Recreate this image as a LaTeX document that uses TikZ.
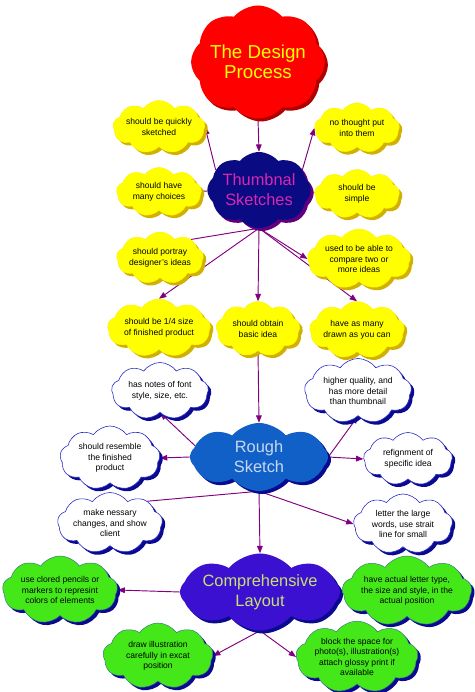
\documentclass[tikz,border=0pt]{standalone}
\usepackage{xcolor}
\usepackage{fontspec}
\setmainfont{Liberation Sans}
\usepackage{tikz}
\usetikzlibrary{shapes.symbols, arrows.meta, shadows, backgrounds}

\definecolor{lila}{HTML}{800080}
\definecolor{rojo}{HTML}{FF0000}
\definecolor{rojoosc}{HTML}{B00000}
\definecolor{marino}{HTML}{0A0A82}
\definecolor{morado}{HTML}{600080}
\definecolor{azul}{HTML}{1060C8}
\definecolor{violeta}{HTML}{3C10D0}
\definecolor{sombra}{HTML}{0A0A90}
\definecolor{amarillo}{HTML}{FFFF00}
\definecolor{oro}{HTML}{D0B000}
\definecolor{verde}{HTML}{44E818}
\definecolor{borde}{HTML}{2828C8}
\definecolor{rosa}{HTML}{D828B0}
\definecolor{celeste}{HTML}{C8D8EC}
\definecolor{lima}{HTML}{C8E070}

\begin{document}
\begin{tikzpicture}[
  nube/.style={
    cloud, cloud puffs=9, cloud puff arc=110, cloud ignores aspect,
    inner sep=0pt, align=center, font=\fontsize{7.3}{9}\selectfont
  },
  grande/.style={
    cloud, cloud puffs=8, cloud puff arc=100, cloud ignores aspect,
    inner sep=0pt, align=center, font=\fontsize{14}{17}\selectfont
  },
  amarilla/.style={
    nube, fill=amarillo, draw=amarillo!90!orange, line width=0.4pt,
    drop shadow={shadow xshift=0.9mm, shadow yshift=-0.9mm, fill=oro, opacity=1}
  },
  blanca/.style={
    nube, fill=white, draw=borde, line width=0.5pt,
    drop shadow={shadow xshift=0.9mm, shadow yshift=-0.9mm, fill=sombra, opacity=1}
  },
  verdes/.style={
    nube, fill=verde, draw=borde!60!verde, line width=0.4pt,
    drop shadow={shadow xshift=0.9mm, shadow yshift=-0.9mm, fill=sombra, opacity=1}
  },
  arr/.style={-{Triangle[length=2.2mm, width=1.7mm]}, draw=lila, line width=0.8pt},
  lin/.style={draw=lila, line width=0.8pt}
]
\useasboundingbox (0,0) rectangle (14.22,20.76);

% ── Nubes principales ─────────────────────────────────────────
\node[grande, fill=rojo, text=amarillo, font=\fontsize{16}{17.5}\selectfont,
  minimum width=3.75cm, minimum height=3.39cm,
  drop shadow={shadow xshift=0.9mm, shadow yshift=-0.9mm, fill=rojoosc, opacity=1}]
  (DP) at (7.74, 18.90) {The Design\\Process};
\node[grande, fill=marino, text=rosa, minimum width=3.06cm, minimum height=2.28cm,
  drop shadow={shadow xshift=0.9mm, shadow yshift=-0.9mm, fill=morado, opacity=1}]
  (TS) at (7.77, 15.06) {Thumbnal\\Sketches};
\node[grande, fill=azul, text=celeste, minimum width=4.14cm, minimum height=2.04cm,
  drop shadow={shadow xshift=0.9mm, shadow yshift=-0.9mm, fill=sombra, opacity=1}]
  (RS) at (7.77, 7.05) {Rough\\Sketch};
\node[grande, fill=violeta, text=lima, minimum width=4.8cm, minimum height=2.31cm,
  drop shadow={shadow xshift=0.9mm, shadow yshift=-0.9mm, fill=sombra, opacity=1}]
  (CL) at (7.80, 3.00) {Comprehensive\\Layout};

% ── Thumbnal Sketches (amarillas) ─────────────────────────────
\node[amarilla, minimum width=2.76cm, minimum height=1.59cm] (Y1) at (4.77, 16.95)
  {should be quickly\\sketched};
\node[amarilla, minimum width=2.55cm, minimum height=1.50cm] (Y2) at (10.71, 16.92)
  {no thought put\\into them};
\node[amarilla, minimum width=2.55cm, minimum height=1.47cm] (Y3) at (4.77, 15.00)
  {should have\\many choices};
\node[amarilla, minimum width=2.55cm, minimum height=1.47cm] (Y4) at (10.71, 14.94)
  {should be\\simple};
\node[amarilla, minimum width=2.55cm, minimum height=1.56cm] (Y5) at (4.80, 13.02)
  {should portray\\designer's ideas};
\node[amarilla, minimum width=3.09cm, minimum height=1.80cm] (Y6) at (10.77, 12.99)
  {used to be able to\\compare two or\\more ideas};
\node[amarilla, minimum width=3.09cm, minimum height=1.74cm] (Y7) at (4.77, 10.92)
  {should be 1/4 size\\of finished product};
\node[amarilla, minimum width=2.52cm, minimum height=1.65cm] (Y8) at (7.74, 10.89)
  {should obtain\\basic idea};
\node[amarilla, minimum width=2.85cm, minimum height=1.71cm] (Y9) at (10.71, 10.86)
  {have as many\\drawn as you can};

% ── Rough Sketch (blancas) ────────────────────────────────────
\node[blanca, minimum width=2.91cm, minimum height=1.71cm] (W1) at (4.80, 9.03)
  {has notes of font\\style, size, etc.};
\node[blanca, minimum width=3.21cm, minimum height=1.95cm] (W2) at (10.74, 9.03)
  {higher quality, and\\has more detail\\than thumbnail};
\node[blanca, minimum width=3.00cm, minimum height=1.92cm] (W3) at (3.30, 7.02)
  {should resemble\\the finished\\product};
\node[blanca, minimum width=2.67cm, minimum height=1.59cm] (W4) at (12.24, 6.99)
  {refignment of\\specific idea};
\node[blanca, minimum width=3.00cm, minimum height=1.83cm] (W5) at (3.30, 5.07)
  {make nessary\\changes, and show\\client};
\node[blanca, minimum width=2.97cm, minimum height=1.80cm] (W6) at (12.09, 5.04)
  {letter the large\\words, use strait\\line for small};

% ── Comprehensive Layout (verdes) ─────────────────────────────
\node[verdes, minimum width=3.45cm, minimum height=2.04cm] (G1) at (1.80, 3.06)
  {use clored pencils or\\markers to represint\\colors of elements};
\node[verdes, minimum width=3.87cm, minimum height=2.10cm] (G2) at (12.21, 3.03)
  {have actual letter type,\\the size and style, in the\\actual position};
\node[verdes, minimum width=3.30cm, minimum height=1.98cm] (G3) at (4.74, 1.08)
  {draw illustration\\carefully in excat\\position};
\node[verdes, minimum width=3.54cm, minimum height=2.04cm] (G4) at (10.71, 1.05)
  {block the space for\\photo(s), illustration(s)\\attach glossy print if\\available};

% ── Flechas ───────────────────────────────────────────────────
\begin{scope}[on background layer]
  \draw[arr] (DP.south) -- (TS.north);

  % alrededor de Thumbnal Sketches
  \draw[arr] (TS.155) -- (Y1.east);
  \draw[arr] (TS.25) -- (Y2.west);
  \draw[lin] (TS) -- (Y3);
  \draw[lin] (TS) -- (Y4);
  \draw[lin] (TS.south) -- (Y5.north east);
  \draw[arr] (TS.south) -- (Y6.west);
  \draw[arr] (TS.south) -- (Y7.north);
  \draw[arr] (TS.south) -- (Y8.north);
  \draw[arr] (TS.south) -- (Y9.north);

  % basic idea -> Rough Sketch
  \draw[arr] (Y8.south) -- (RS.north);

  % alrededor de Rough Sketch
  \draw[arr] (RS.170) -- (W1.south);
  \draw[arr] (RS.west) -- (W3.east);
  \draw[arr] (RS.east) -- (W2.south);
  \draw[arr] (RS.east) -- (W4.west);
  \draw[lin] (RS.south) -- (W5.north east);
  \draw[arr] (RS.south) -- (CL.north);
  \draw[arr] (RS.south) -- (W6.west);

  % alrededor de Comprehensive Layout
  \draw[arr] (CL.west) -- (G1.east);
  \draw[lin] (CL) -- (G2);
  \draw[arr] (CL.south) -- (G3.east);
  \draw[arr] (CL.south) -- (G4.west);
\end{scope}

\end{tikzpicture}
\end{document}
